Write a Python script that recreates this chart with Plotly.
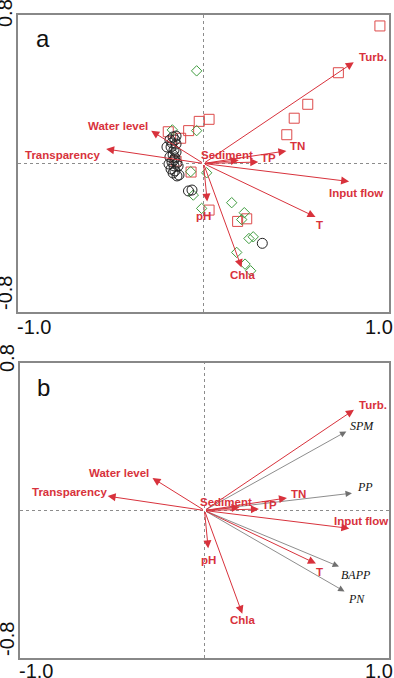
import plotly.graph_objects as go

# ---------------- data ----------------
env_names = ["Turb.", "Water level", "Transparency", "Sediment", "TP", "TN",
             "Input flow", "T", "pH", "Chla"]
env_x = [0.810, -0.282, -0.525, 0.190, 0.295, 0.447, 0.785, 0.604, 0.020, 0.205]
env_y = [0.546, 0.176, 0.078, 0.018, 0.008, 0.068, -0.097, -0.288, -0.205, -0.560]

resp_names = ["SPM", "PP", "BAPP", "PN"]
resp_x = [0.769, 0.799, 0.729, 0.759]
resp_y = [0.429, 0.094, -0.304, -0.439]

sq_x = [0.951, 0.727, 0.562, 0.489, 0.449, 0.030, -0.023, -0.080, -0.123, -0.190,
        0.030, 0.184, 0.233, -0.067, -0.148]
sq_y = [0.741, 0.489, 0.319, 0.244, 0.155, 0.238, 0.227, 0.177, 0.136, 0.171,
        -0.251, -0.312, -0.298, -0.046, 0.013]

dm_x = [-0.037, -0.168, -0.037, -0.069, 0.017, -0.055, -0.010, 0.152, 0.220, 0.206,
        0.268, 0.245, 0.179, 0.224, 0.254]
dm_y = [0.499, 0.181, 0.177, -0.044, -0.050, -0.170, -0.242, -0.211, -0.265, -0.302,
        -0.395, -0.404, -0.479, -0.542, -0.578]

ci_x = [-0.164, -0.154, -0.170, -0.148, -0.175, -0.159, -0.197, -0.148, -0.164, -0.181,
        -0.154, -0.170, -0.143, -0.186, -0.159, -0.137, -0.175, -0.154, -0.164, -0.132,
        -0.143, -0.159, -0.148, -0.181, -0.081, -0.062, 0.317]
ci_y = [0.143, 0.127, 0.111, 0.105, 0.089, 0.073, 0.089, 0.062, 0.046, 0.035,
        0.030, 0.008, 0.003, -0.003, -0.013, -0.013, -0.030, -0.040, -0.051, -0.062,
        -0.067, 0.019, 0.148, 0.127, -0.148, -0.143, -0.430]

x_ticks = [-1.0, 1.0]
y_ticks = [0.8, -0.8]
panel_labels = ["a", "b"]

# ---------------- style ----------------
RED = "#d8323c"
SQ_RED = "#dd4a4a"
GREEN = "#3f9c3f"
GRAY = "#8c8c8c"
FONT = "Liberation Sans, Arial, sans-serif"

# label offsets (xshift, yshift, xanchor) per panel, in pixels
env_lab_a = {
    "Turb.": (3, 5, "left"), "Water level": (-1, 5, "right"),
    "Transparency": (-4, -6, "right"), "Sediment": (-12, 5, "center"),
    "TP": (1, 4, "left"), "TN": (2, 5, "left"), "Input flow": (7, -11, "center"),
    "T": (4, -8, "center"), "pH": (-4, -14, "center"), "Chla": (1, -8, "center"),
}
env_lab_b = {
    "Turb.": (3, 5, "left"), "Water level": (-1, 5, "right"),
    "Transparency": (1, 4, "right"), "Sediment": (-14, 5, "center"),
    "TP": (1, 4, "left"), "TN": (2, 4, "left"), "Input flow": (12, 7, "center"),
    "T": (4, -8, "center"), "pH": (0, -12, "center"), "Chla": (1, -6, "center"),
}
resp_lab_b = {
    "SPM": (2, 5, "left"), "PP": (3, 6, "left"), "BAPP": (0, -8, "left"),
    "PN": (1, -8, "left"),
}

fig = go.Figure()

fig.add_trace(go.Scatter(x=sq_x, y=sq_y, mode="markers", xaxis="x", yaxis="y",
                         marker=dict(symbol="square-open", size=10, color=SQ_RED,
                                     line=dict(width=1, color=SQ_RED)),
                         showlegend=False, hoverinfo="skip"))
fig.add_trace(go.Scatter(x=dm_x, y=dm_y, mode="markers", xaxis="x", yaxis="y",
                         marker=dict(symbol="diamond-open", size=8, color=GREEN,
                                     line=dict(width=1, color=GREEN)),
                         showlegend=False, hoverinfo="skip"))
fig.add_trace(go.Scatter(x=ci_x, y=ci_y, mode="markers", xaxis="x", yaxis="y",
                         marker=dict(symbol="circle-open", size=10, color="#222222",
                                     line=dict(width=1, color="#222222")),
                         showlegend=False, hoverinfo="skip"))
# invisible trace for panel b
fig.add_trace(go.Scatter(x=[0], y=[0], mode="markers", xaxis="x2", yaxis="y2",
                         marker=dict(size=1, opacity=0), showlegend=False,
                         hoverinfo="skip"))

annotations = []
shapes = []


def add_arrow(xr, yr, x, y, color, width, size):
    annotations.append(dict(x=x, y=y, ax=0, ay=0, xref=xr, yref=yr, axref=xr, ayref=yr,
                             text="", showarrow=True, arrowhead=2, arrowsize=size,
                             arrowwidth=width, arrowcolor=color, standoff=0,
                             startstandoff=0))


def add_label(xr, yr, x, y, text, off, font):
    xs, ys, xa = off
    annotations.append(dict(x=x, y=y, xref=xr, yref=yr, text=text, showarrow=False,
                            xanchor=xa, yanchor="middle", xshift=xs, yshift=ys,
                            font=font))


panels = [("x", "y", env_lab_a), ("x2", "y2", env_lab_b)]
for pi, (xr, yr, labs) in enumerate(panels):
    # dotted zero lines
    shapes.append(dict(type="line", xref=xr, yref=yr, x0=-1, x1=1, y0=0, y1=0,
                       line=dict(color=GRAY, width=1, dash="dot")))
    shapes.append(dict(type="line", xref=xr, yref=yr, x0=0, x1=0, y0=-0.8, y1=0.8,
                       line=dict(color=GRAY, width=1, dash="dot")))
    if pi == 1:
        for n, x, y in zip(resp_names, resp_x, resp_y):
            add_arrow(xr, yr, x, y, "#707070", 0.8, 1.6)
            add_label(xr, yr, x, y, "<i>" + n + "</i>", resp_lab_b[n],
                      dict(family="Liberation Serif, Times New Roman, serif",
                           size=12, color="#111111"))
    for n, x, y in zip(env_names, env_x, env_y):
        add_arrow(xr, yr, x, y, RED, 1, 1.6)
        add_label(xr, yr, x, y, "<b>" + n + "</b>", labs[n],
                  dict(family=FONT, size=11.5, color=RED))
    # tick labels
    for t in x_ticks:
        annotations.append(dict(x=t, y=-0.8, xref=xr, yref=yr, text=f"{t:.1f}",
                                showarrow=False, xanchor="left" if t < 0 else "right",
                                yanchor="top", xshift=-2 if t < 0 else 5,
                                yshift=-3 if pi == 0 else -1, borderpad=0,
                                font=dict(family=FONT, size=20, color="#111111")))
    for t in y_ticks:
        top = t > 0
        annotations.append(dict(x=-1, y=t, xref=xr, yref=yr, text=f"{t:.1f}",
                                showarrow=False, textangle=-90, xanchor="right",
                                yanchor="middle" if top else "bottom", xshift=-1,
                                yshift=(2 if pi == 0 else 5) if top else 1,
                                borderpad=0,
                                font=dict(family=FONT, size=20, color="#111111")))
    annotations.append(dict(x=-1, y=0.8, xref=xr, yref=yr, text=panel_labels[pi],
                            showarrow=False, xanchor="left", yanchor="top",
                            xshift=16 if pi == 0 else 15, yshift=-8 if pi == 0 else -9,
                            font=dict(family=FONT, size=24, color="#111111")))

axis_common = dict(showgrid=False, zeroline=False, showticklabels=False, ticks="",
                   showline=True, linecolor="#888888", linewidth=1.5, mirror=True,
                   fixedrange=True)

fig.update_layout(
    width=394, height=678,
    margin=dict(l=0, r=0, t=0, b=0),
    paper_bgcolor="white", plot_bgcolor="white",
    xaxis=dict(domain=[18 / 394, 389 / 394], range=[-1, 1], anchor="y", **axis_common),
    yaxis=dict(domain=[(678 - 312) / 678, (678 - 15) / 678], range=[-0.8, 0.8],
               anchor="x", **axis_common),
    xaxis2=dict(domain=[20 / 394, 389 / 394], range=[-1, 1], anchor="y2", **axis_common),
    yaxis2=dict(domain=[(678 - 658) / 678, (678 - 363) / 678], range=[-0.8, 0.8],
                anchor="x2", **axis_common),
    annotations=annotations,
    shapes=shapes,
)

fig.write_html("out.html", config={"displayModeBar": False},
               post_script="document.body.style.margin='0px';"
                           "document.body.style.overflow='hidden';")
